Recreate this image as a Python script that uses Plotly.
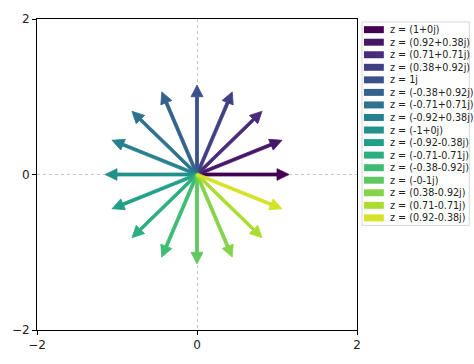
import plotly.graph_objects as go
from plotly.colors import sample_colorscale

# Data: unit complex numbers z = exp(i*k*pi/8), k = 0..15
z_re = [1.0, 0.924, 0.707, 0.383, 0.0, -0.383, -0.707, -0.924,
        -1.0, -0.924, -0.707, -0.383, 0.0, 0.383, 0.707, 0.924]
z_im = [0.0, 0.383, 0.707, 0.924, 1.0, 0.924, 0.707, 0.383,
        0.0, -0.383, -0.707, -0.924, -1.0, -0.924, -0.707, -0.383]
z_labels = ["z = (1+0j)", "z = (0.92+0.38j)", "z = (0.71+0.71j)", "z = (0.38+0.92j)",
            "z = 1j", "z = (-0.38+0.92j)", "z = (-0.71+0.71j)", "z = (-0.92+0.38j)",
            "z = (-1+0j)", "z = (-0.92-0.38j)", "z = (-0.71-0.71j)", "z = (-0.38-0.92j)",
            "z = (-0-1j)", "z = (0.38-0.92j)", "z = (0.71-0.71j)", "z = (0.92-0.38j)"]
tick_vals = [-2, 0, 2]

n = len(z_re)
colors = sample_colorscale("Viridis", [k / n for k in range(n)])

shaft_hw = 0.019   # shaft half width (data units)
head_hw = 0.075    # head half width
head_len = 0.15    # head length

fig = go.Figure()
for re, im, lab, col in zip(z_re, z_im, z_labels, colors):
    dx, dy = re, im
    nx, ny = -dy, dx
    pts = [
        (nx * shaft_hw, ny * shaft_hw),
        (dx + nx * shaft_hw, dy + ny * shaft_hw),
        (dx + nx * head_hw, dy + ny * head_hw),
        (dx * (1 + head_len), dy * (1 + head_len)),
        (dx - nx * head_hw, dy - ny * head_hw),
        (dx - nx * shaft_hw, dy - ny * shaft_hw),
        (-nx * shaft_hw, -ny * shaft_hw),
        (nx * shaft_hw, ny * shaft_hw),
    ]
    fig.add_trace(go.Scatter(
        x=[p[0] for p in pts], y=[p[1] for p in pts],
        mode="lines", fill="toself", fillcolor=col,
        line=dict(color=col, width=0.8), name=lab, hoverinfo="name",
        showlegend=False,
    ))

axis_common = dict(
    range=[-2, 2], tickvals=tick_vals, ticks="outside", ticklen=4, tickwidth=1,
    tickcolor="black", showline=True, linecolor="black", linewidth=1, mirror=True,
    showgrid=True, gridcolor="#c4c4c4", griddash="dot", gridwidth=0.8,
    zeroline=False, tickfont=dict(family="DejaVu Sans", size=12, color="#222"),
)
fig.update_xaxes(**axis_common)
fig.update_yaxes(**axis_common)

# --- legend drawn in pixel layout (matplotlib-style, compact rows) ---
W, H = 474, 364
L, R, T, B = 35, 117, 14, 29
pw, ph = W - L - R, H - T - B


def px_x(px):
    return (px - L) / pw


def px_y(py):
    return (H - B - py) / ph


shapes = []
annotations = []
box_l, box_r, box_t, box_b = 362, 470, 17, 227
shapes.append(dict(type="rect", xref="paper", yref="paper",
                   x0=px_x(box_l), x1=px_x(box_r), y0=px_y(box_b), y1=px_y(box_t),
                   line=dict(color="#d6d6d6", width=1), fillcolor="white", layer="above"))
row0, row_gap = 25.0, 12.95
for k, (lab, col) in enumerate(zip(z_labels, colors)):
    cy = row0 + k * row_gap
    shapes.append(dict(type="rect", xref="paper", yref="paper",
                       x0=px_x(364), x1=px_x(384), y0=px_y(cy + 3.6), y1=px_y(cy - 3.6),
                       line=dict(width=0), fillcolor=col, layer="above"))
    annotations.append(dict(xref="paper", yref="paper", x=px_x(388.5), y=px_y(cy),
                            xanchor="left", yanchor="middle", text=lab, showarrow=False,
                            font=dict(family="DejaVu Sans", size=9.6, color="#222")))

fig.update_layout(
    width=W, height=H,
    margin=dict(l=L, r=R, t=T, b=B),
    paper_bgcolor="white", plot_bgcolor="white",
    showlegend=False,
    shapes=shapes, annotations=annotations,
)

fig.write_html("out.html")
